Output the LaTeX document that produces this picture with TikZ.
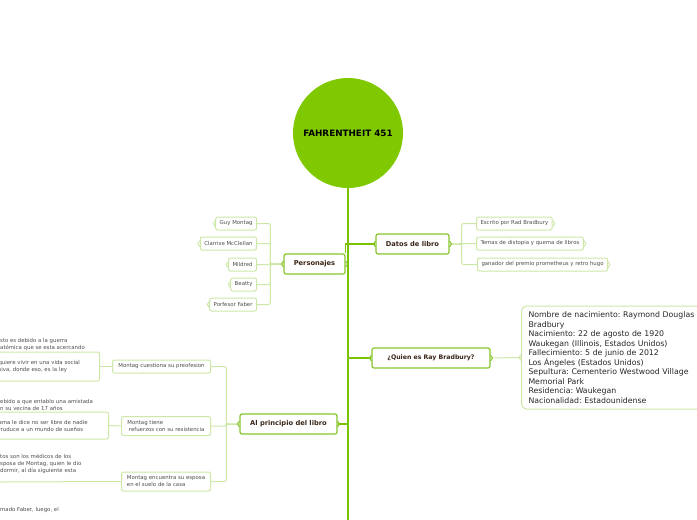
\documentclass[tikz,border=0pt]{standalone}
\usepackage{fontspec}
\setmainfont{DejaVu Sans}
\usepackage{tikz}
\usetikzlibrary{positioning}
\frenchspacing

\definecolor{rootgreen}{RGB}{128,200,0}
\definecolor{trunkgreen}{RGB}{122,194,0}
\definecolor{topicgreen}{RGB}{134,198,44}
\definecolor{subgreen}{RGB}{204,231,166}
\definecolor{topictext}{RGB}{58,38,24}
\definecolor{subtext}{RGB}{78,78,78}

\newcommand{\tinyfont}{\fontsize{5.4}{7}\selectfont}
% small chevrons on the box sides
\newcommand{\leftbump}[2]{\draw[#2, line width=0.9pt] ([yshift=3pt]#1.west) -- ++(-2,3) -- ++(2,3);}
\newcommand{\rightbump}[2]{\draw[#2, line width=0.9pt] ([yshift=3pt]#1.east) -- ++(2,3) -- ++(-2,3);}

\begin{document}
\begin{tikzpicture}[
x=1pt, y=-1pt,
root/.style={circle, fill=rootgreen, minimum size=110pt, inner sep=0pt, font=\bfseries\fontsize{8.8}{10}\selectfont},
topic/.style={draw=topicgreen, line width=1.2pt, rounded corners=2pt, fill=white, minimum height=20pt, inner sep=2pt, text=topictext, font=\bfseries\fontsize{6.7}{8}\selectfont},
subbox/.style={draw=subgreen, line width=1pt, rounded corners=2pt, fill=white, minimum height=13pt, inner xsep=4pt, inner ysep=1pt, text=subtext, font=\tinyfont},
note/.style={inner sep=0pt, align=left, text=subtext, font=\tinyfont},
trunk/.style={draw=trunkgreen, line width=1.4pt},
twig/.style={draw=subgreen, line width=1pt, rounded corners=2pt}
]
\useasboundingbox (0,0) rectangle (697,520);
\clip (0,0) rectangle (697,520);

\node[root] (root) at (348,133) {FAHRENTHEIT 451};
\coordinate (tend) at (348,525);

\node[topic, minimum width=73pt] (datos) at (412.5,244) {Datos de libro};
\node[topic, minimum width=61pt] (pers) at (314.5,264) {Personajes};
\node[topic, minimum width=118pt, font=\bfseries\fontsize{6.2}{8}\selectfont] (quien) at (431,358) {¿Quien es Ray Bradbury?};
\node[topic, minimum width=97pt] (inicio) at (288.5,424) {Al principio del libro};

% datos de libro
\node[subbox, anchor=west] (escrito) at (476,223.5) {Escrito por Rad Bradbury};
\node[subbox, anchor=west] (temas) at (476,243.5) {Temas de distopia y quema de libros};
\node[subbox, anchor=west] (ganador) at (477,264.5) {ganador del premio prometheus y retro hugo};

% personajes
\node[subbox, anchor=east] (guy) at (257,223.5) {Guy Montag};
\node[subbox, anchor=east] (clarisse) at (257,243.5) {Clarrise McClellan};
\node[subbox, anchor=east] (mildred) at (257,264.5) {Mildred};
\node[subbox, anchor=east] (beatty) at (257,284.5) {Beatty};
\node[subbox, anchor=east] (faber) at (257,304.5) {Porfesor Faber};

% ray bradbury
\node[draw=subgreen, line width=1pt, rounded corners=5pt, anchor=west, minimum height=103pt,
      text width=200pt, inner xsep=7pt, align=left, text=black!85,
      font=\fontsize{7.8}{9.5}\selectfont] (bio) at (521,357.5)
  {Nombre de nacimiento: Raymond Douglas\\Bradbury\\Nacimiento: 22 de agosto de 1920\\Waukegan (Illinois, Estados Unidos)\\Fallecimiento: 5 de junio de 2012\\Los Ángeles (Estados Unidos)\\Sepultura: Cementerio Westwood Village\\Memorial Park\\Residencia: Waukegan\\Nacionalidad: Estadounidense};

% al principio del libro
\node[subbox, anchor=east, minimum width=98pt] (cuestiona) at (211,366.5) {Montag cuestiona su preofesion};
\node[subbox, anchor=east, minimum width=89pt, align=left, minimum height=19pt] (refuerzos) at (211,426) {Montag tiene\\\hspace*{1.5pt}refuerzos con su resistencia};
\node[subbox, anchor=east, minimum width=89pt, align=left, minimum height=19pt] (encuentra) at (211,481.5) {Montag encuentra su esposa\\en el suelo de la casa};

\node[subbox, anchor=east, minimum width=106pt, minimum height=29pt, text width=96pt, align=left, inner xsep=2pt] (social) at (100,366.5) {quiere vivir en una vida social\\siva, donde eso, es la ley};
\node[subbox, anchor=east, minimum width=115pt, minimum height=27pt, text width=105pt, align=left, inner xsep=2pt] (suenos) at (109,425.5) {ama le dice no ser libre de nadie\\rruduce a un mundo de sueños};
\node[note, anchor=west] (guerra) at (0,344.5) {sto es debido a la guerra\\atómica que se esta acercando};
\node[note, anchor=west] (amistad) at (0,404.5) {ebido a que entablo una amistada\\n su vecina de 17 años};
\node[note, anchor=west] (medicos) at (0,463.5) {tos son los médicos de los\\sposa de Montag, quien le dio\\dormir, al día siguiente esta};
\node[note, anchor=west] (fabernote) at (0,510) {mado Faber, luego, el};
\coordinate (medend) at (0,482);

% connectors
\draw[trunk] (root.south) -- (tend);
\draw[trunk] (root.south |- datos.west) -- (datos.west);
\draw[trunk] (root.south |- datos.west) -| (pers.north east);
\draw[trunk] (root.south |- quien.west) -- (quien.west);
\draw[trunk] (root.south |- inicio.east) -- (inicio.east);

\foreach \n in {escrito,temas,ganador}
  \draw[twig] (datos.east) -- ++(12,0) |- (\n.west);
\foreach \n in {guy,clarisse,mildred,beatty,faber}
  \draw[twig] (pers.west) -- ++(-13,0) |- (\n.east);
\foreach \n in {cuestiona,refuerzos,encuentra}
  \draw[twig] (inicio.west) -- ++(-13,0) |- (\n.east);
\draw[twig] (quien.east) -- (bio.west);
\draw[twig] (cuestiona.west) -- (social.east);
\draw[twig] (refuerzos.west) -- (suenos.east);
\draw[twig] (encuentra.west) -- (medend);

\leftbump{datos}{topicgreen}
\rightbump{datos}{topicgreen}
\leftbump{pers}{topicgreen}
\rightbump{pers}{topicgreen}
\leftbump{quien}{topicgreen}
\rightbump{quien}{topicgreen}
\leftbump{inicio}{topicgreen}
\rightbump{inicio}{topicgreen}
\leftbump{bio}{subgreen}
\foreach \n in {escrito,temas,ganador} {\rightbump{\n}{subgreen}}
\foreach \n in {guy,clarisse,mildred,beatty,faber} {\leftbump{\n}{subgreen}}
\end{tikzpicture}
\end{document}
